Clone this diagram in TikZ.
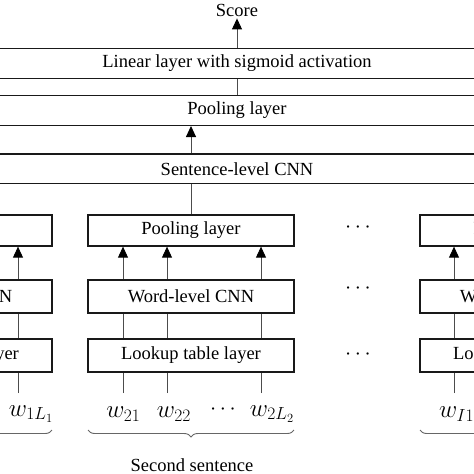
\RequirePackage{fix-cm}
\documentclass[tikz,border=0pt]{standalone}
\usepackage{fontspec}
\setmainfont{Liberation Serif}
\usetikzlibrary{arrows.meta,decorations.pathreplacing}
\begin{document}
\begin{tikzpicture}[x=1pt,y=-1pt,
  font=\fontsize{18.5}{22}\selectfont,
  wide/.style={draw=black!90,line width=1.4pt,minimum width=520pt,inner sep=0pt},
  colbox/.style={draw=black!90,line width=1.3pt,minimum width=206pt,inner sep=0pt},
  ln/.style={draw=black!70,line width=0.9pt},
  arr/.style={ln,-{Triangle[length=11pt,width=10pt,color=black]}},
  brc/.style={draw=black!60,line width=0.9pt,decorate,decoration={brace,amplitude=7pt}},
  lbl/.style={inner sep=1pt},
  wlbl/.style={inner sep=1pt,font=\fontsize{25}{28}\selectfont},
  dots/.style={inner sep=1pt,font=\fontsize{22}{26}\selectfont}]
\useasboundingbox (0,0) rectangle (474,474);
\begin{scope}
\clip (0,0) rectangle (474,474);
% top layers
\node[lbl,inner sep=2pt] (score) at (237,10) {Score};
\node[wide,minimum height=30.5pt] (lin) at (237,63.5) {Linear layer with sigmoid activation};
\node[wide,minimum height=30pt] (ptop) at (237,110.3) {Pooling layer};
\node[wide,minimum height=29.5pt] (scnn) at (237,168.8) {Sentence-level CNN};
% columns
\foreach \c/\cx in {1/-51,2/191,3/523}{
  \node[colbox,minimum height=31pt] (pool\c) at (\cx,230.5) {Pooling layer};
  \node[colbox,minimum height=33pt] (cnn\c) at (\cx,296.5) {Word-level CNN};
  \node[colbox,minimum height=33pt] (look\c) at (\cx,355.5) {Lookup table layer};
}
% word inputs
\coordinate (c11) at (-119,393); \coordinate (c12) at (-75,393); \coordinate (c13) at (18,393);
\coordinate (c21) at (123,393); \coordinate (c22) at (167,393); \coordinate (c23) at (261,393);
\coordinate (c31) at (454,393); \coordinate (c32) at (498,393); \coordinate (c33) at (592,393);
\node[wlbl] (w11) at (-119,414) {$w_{11}$};
\node[wlbl] (w12) at (-75,414) {$w_{12}$};
\node[wlbl] (w13) at (31,414) {$w_{1L_1}$};
\node[wlbl] (w21) at (123.5,414) {$w_{21}$};
\node[wlbl] (w22) at (174,414) {$w_{22}$};
\node[dots] (wd2) at (223,410) {$\cdots$};
\node[wlbl] (w23) at (272,414) {$w_{2L_2}$};
\node[wlbl,anchor=west] (w31) at (438,414) {$w_{I1}$};
\foreach \c in {1,2,3}{
  \foreach \k in {1,2,3}{
    \draw[ln] (c\c\k) -- (look\c.south -| c\c\k);
    \draw[ln] (look\c.north -| c\c\k) -- (cnn\c.south -| c\c\k);
    \draw[arr] (cnn\c.north -| c\c\k) -- (pool\c.south -| c\c\k);
  }
}
% dots between columns
\node[dots] (d1) at (358,228) {$\cdots$};
\node[dots] (d2) at (358,289) {$\cdots$};
\node[dots] (d3) at (358,355) {$\cdots$};
% upper connections
\draw[ln] (pool2.north) -- (scnn.south -| pool2);
\draw[arr] (scnn.north -| pool2) -- (ptop.south -| pool2);
\draw[ln] (ptop.north -| lin) -- (lin.south);
\draw[arr] (lin.north) -- (score.south);
% braces
\coordinate (b1r) at (52,430); \coordinate (b1l) at (-154,430);
\coordinate (b2r) at (294,430); \coordinate (b2l) at (88,430);
\coordinate (b3r) at (626,430); \coordinate (b3l) at (420,430);
\draw[brc] (b1r) -- (b1l);
\draw[brc] (b2r) -- (b2l);
\draw[brc] (b3r) -- (b3l);
\node[lbl] (s2) at (192,465) {Second sentence};
\end{scope}
\end{tikzpicture}
\end{document}
